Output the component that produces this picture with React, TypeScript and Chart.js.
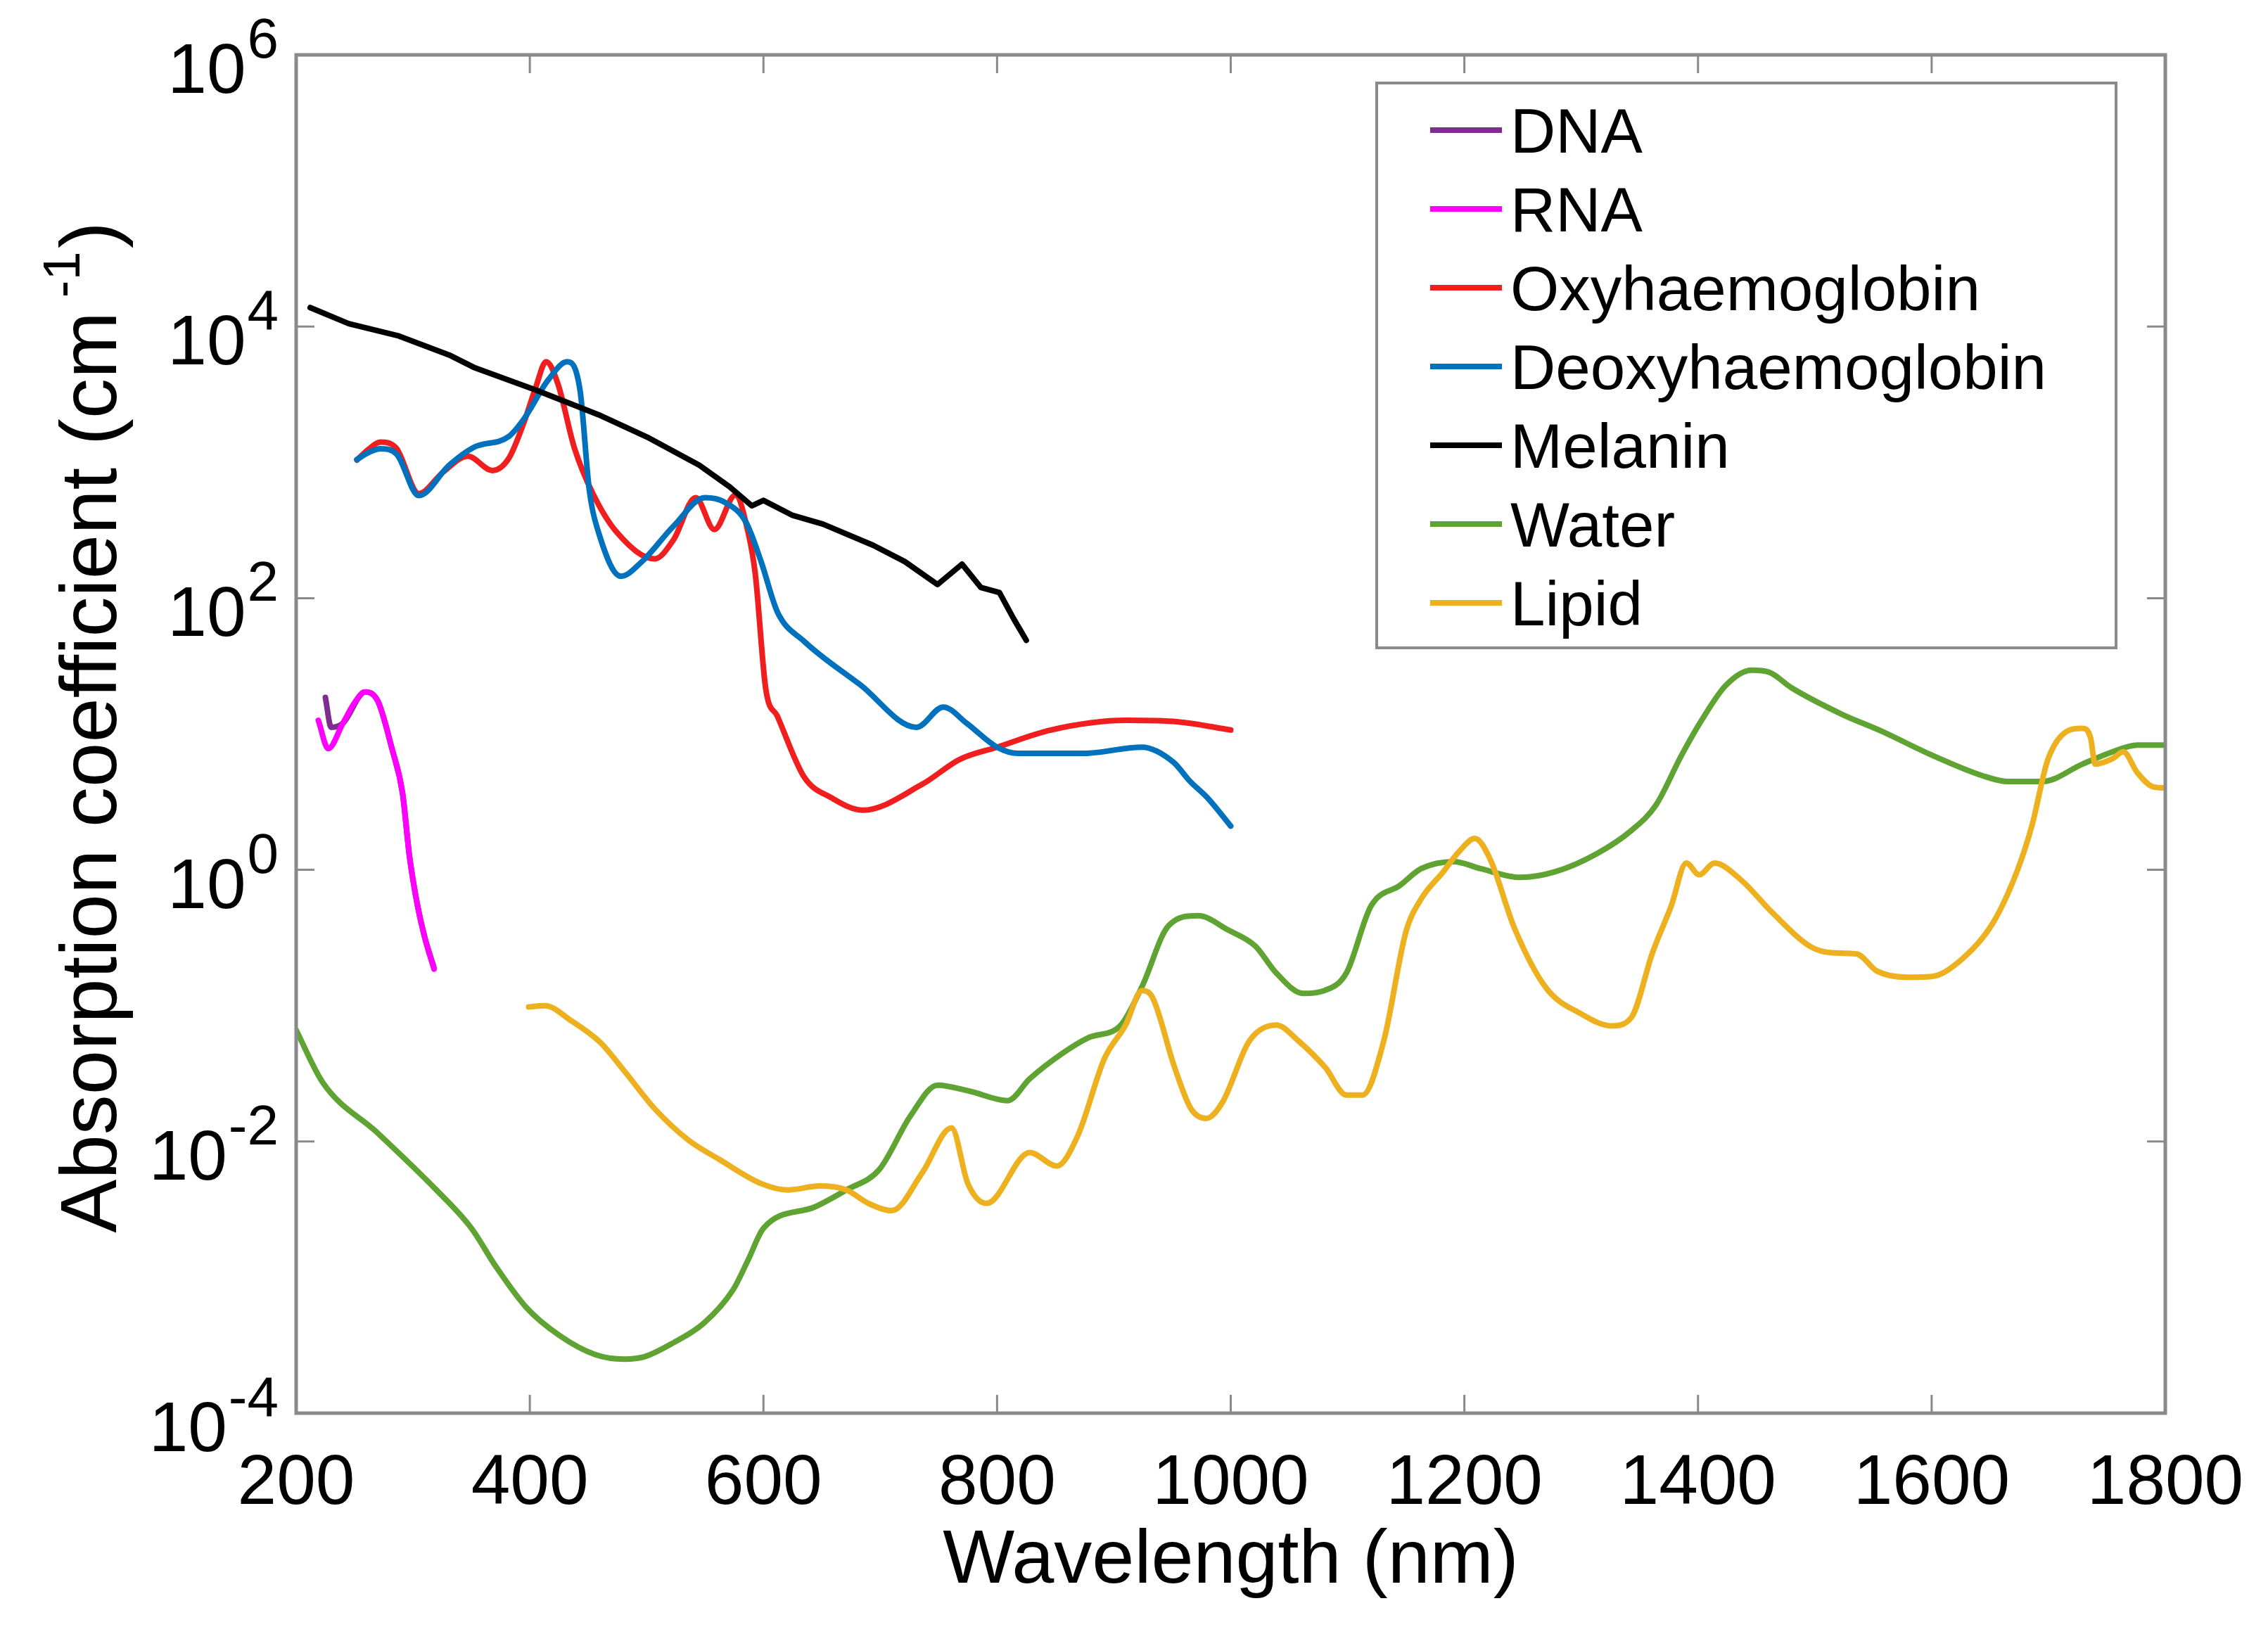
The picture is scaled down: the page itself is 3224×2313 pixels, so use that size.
import React, { useEffect, useRef } from "react";
import { Chart, registerables } from "chart.js";

Chart.register(...registerables);

const W = 3224;
const H = 2313;
const FONT = '"Liberation Sans", Arial, Helvetica, sans-serif';

// ---------- data (wavelength in nm, absorption coefficient in cm^-1) ----------
const dnaNm = [225, 230, 240, 259, 270, 282, 291, 297, 304, 310, 318];
const dnaVal = [18.6, 11.2, 12.0, 20.4, 17.4, 7.8, 3.7, 1.26, 0.54, 0.32, 0.19];

const rnaNm = [219, 227.5, 240, 250, 259, 270, 282, 291, 297, 304, 310, 318];
const rnaVal = [12.6, 7.8, 12.0, 17.0, 20.4, 17.4, 7.8, 3.7, 1.26, 0.54, 0.32, 0.186];

const oxyNm = [252, 262, 272, 286, 305, 326, 347, 368, 382, 395, 405, 414, 424, 438, 454, 475, 507, 523, 542, 558, 576, 587, 593, 602, 612, 635, 658, 685, 736, 768, 800, 846, 910, 955, 1000];
const oxyVal = [1040, 1250, 1410, 1260, 589, 851, 1110, 871, 1070, 1970, 3550, 5500, 3800, 1290, 589, 302, 195, 269, 550, 320, 575, 302, 151, 21.4, 13.5, 4.8, 3.4, 2.75, 4.27, 6.5, 8.0, 10.7, 12.6, 12.3, 10.7];

const deoxyNm = [252, 262, 272, 286, 305, 331, 352, 382, 395, 416, 432, 443, 451, 459, 478, 496, 523, 550, 566, 585, 598, 612, 635, 683, 731, 754, 774, 800, 818, 874, 924, 951, 965, 980, 1000];
const deoxyVal = [1050, 1180, 1260, 1150, 569, 955, 1290, 1550, 2090, 4070, 5500, 3390, 617, 302, 145, 186, 339, 550, 513, 363, 186, 79, 48, 23, 11.2, 15.8, 12.0, 8.0, 7.2, 7.2, 8.0, 6.2, 4.5, 3.4, 2.1];

const melaninNm = [212, 245, 288, 331, 352, 406, 459, 502, 545, 571, 590, 600, 625, 651, 694, 721, 749, 770, 786, 802, 814, 825];
const melaninVal = [13800, 10500, 8510, 6170, 5010, 3390, 2240, 1510, 955, 661, 479, 525, 407, 351, 245, 186, 126, 178, 120, 110, 71, 49];

const waterNm = [200, 223, 270, 320, 350, 371, 397, 426, 456, 481, 498, 523, 549, 574, 587, 600, 644, 671, 699, 726, 749, 777, 809, 828, 855, 878, 906, 924, 947, 972, 998, 1021, 1039, 1062, 1080, 1099, 1120, 1145, 1163, 1191, 1214, 1248, 1278, 1313, 1343, 1364, 1386, 1403, 1424, 1446, 1461, 1480, 1523, 1557, 1600, 1643, 1665, 1695, 1729, 1755, 1776, 1800];
const waterVal = [0.066, 0.027, 0.0115, 0.0044, 0.0023, 0.0012, 0.0006, 0.00037, 0.00027, 0.00025, 0.00026, 0.00033, 0.00046, 0.00081, 0.00135, 0.0023, 0.0033, 0.0044, 0.0062, 0.0155, 0.026, 0.0234, 0.02, 0.029, 0.044, 0.058, 0.072, 0.138, 0.39, 0.46, 0.36, 0.275, 0.174, 0.123, 0.129, 0.174, 0.54, 0.77, 1.02, 1.15, 1.02, 0.88, 0.97, 1.31, 1.95, 3.0, 7.0, 12.6, 22.9, 29.5, 28.5, 21.9, 14.0, 10.5, 7.0, 4.95, 4.47, 4.47, 6.0, 7.4, 8.3, 8.3];

const lipidNm = [399, 413, 435, 460, 481, 507, 536, 562, 598, 621, 648, 671, 690, 710, 736, 761, 775, 791, 828, 851, 869, 892, 910, 924, 933, 952, 966, 979, 993, 1016, 1039, 1058, 1081, 1099, 1113, 1131, 1150, 1163, 1182, 1195, 1209, 1222, 1243, 1270, 1300, 1326, 1343, 1361, 1377, 1390, 1401, 1414, 1437, 1463, 1497, 1515, 1536, 1553, 1579, 1600, 1626, 1652, 1673, 1686, 1699, 1712, 1729, 1736, 1740, 1755, 1764, 1776, 1789, 1800];
const lipidVal = [0.098, 0.1, 0.078, 0.054, 0.033, 0.0174, 0.0102, 0.0074, 0.0049, 0.0044, 0.0047, 0.0044, 0.0035, 0.0031, 0.0059, 0.0126, 0.0049, 0.0035, 0.0083, 0.0066, 0.011, 0.041, 0.072, 0.129, 0.115, 0.035, 0.0174, 0.0148, 0.0195, 0.055, 0.072, 0.055, 0.035, 0.022, 0.022, 0.055, 0.35, 0.61, 0.97, 1.35, 1.7, 1.2, 0.37, 0.135, 0.087, 0.071, 0.082, 0.245, 0.54, 1.12, 0.92, 1.12, 0.84, 0.49, 0.27, 0.245, 0.24, 0.18, 0.162, 0.164, 0.22, 0.4, 0.97, 2.14, 6.3, 9.9, 11.0, 9.4, 6.0, 6.6, 7.4, 5.2, 4.1, 4.0];

const seriesNames = ["DNA", "RNA", "Oxyhaemoglobin", "Deoxyhaemoglobin", "Melanin", "Water", "Lipid"];
const seriesColors = ["#7E2F8E", "#FF00FF", "#F01E1E", "#0072BD", "#000000", "#5FA332", "#EDB120"];

const xTicks = [200, 400, 600, 800, 1000, 1200, 1400, 1600, 1800];
const yTicks = [1e-4, 1e-2, 1, 1e2, 1e4, 1e6];
const yTickExp = ["-4", "-2", "0", "2", "4", "6"];

const xTitle = "Wavelength (nm)";
const yTitleMain = "Absorption coefficient (cm";
const yTitleSup = "-1";
const yTitleEnd = ")";

const AXIS = "#8a8a8a";

export default function App() {
  const ref = useRef<HTMLCanvasElement>(null);

  useEffect(() => {
    const canvas = ref.current;
    if (!canvas) return;
    const pairs = [
      [dnaNm, dnaVal],
      [rnaNm, rnaVal],
      [oxyNm, oxyVal],
      [deoxyNm, deoxyVal],
      [melaninNm, melaninVal],
      [waterNm, waterVal],
      [lipidNm, lipidVal],
    ];
    const datasets = pairs.map(([xs, ys], i) => ({
      label: seriesNames[i],
      data: (xs as number[]).map((x, k) => ({ x, y: (ys as number[])[k] })),
      borderColor: seriesColors[i],
      backgroundColor: seriesColors[i],
      borderWidth: 8,
      pointRadius: 0,
      fill: false,
      tension: 0,
      borderJoinStyle: "round",
      borderCapStyle: "round",
      cubicInterpolationMode: i === 4 ? "default" : "monotone",
      order: 10 - i,
    }));

    const decor = {
      id: "decor",
      afterDraw(chart: any) {
        const ctx = chart.ctx as CanvasRenderingContext2D;
        const xs = chart.scales.x;
        const ys = chart.scales.y;
        const { left, right, top, bottom } = chart.chartArea;
        ctx.save();
        // axes box
        ctx.strokeStyle = AXIS;
        ctx.lineWidth = 5;
        ctx.strokeRect(left, top, right - left, bottom - top);
        // inward ticks on all four sides
        const tl = 26;
        ctx.lineWidth = 3;
        ctx.beginPath();
        xTicks.forEach((v) => {
          const px = xs.getPixelForValue(v);
          ctx.moveTo(px, bottom);
          ctx.lineTo(px, bottom - tl);
          ctx.moveTo(px, top);
          ctx.lineTo(px, top + tl);
        });
        yTicks.forEach((v) => {
          const py = ys.getPixelForValue(v);
          ctx.moveTo(left, py);
          ctx.lineTo(left + tl, py);
          ctx.moveTo(right, py);
          ctx.lineTo(right - tl, py);
        });
        ctx.stroke();

        // x tick labels
        ctx.fillStyle = "#000";
        ctx.font = `100px ${FONT}`;
        ctx.textAlign = "center";
        ctx.textBaseline = "alphabetic";
        xTicks.forEach((v) => {
          ctx.fillText(String(v), xs.getPixelForValue(v), 2138);
        });

        // y tick labels 10^n
        ctx.textAlign = "left";
        yTicks.forEach((v, i) => {
          const py = ys.getPixelForValue(v);
          ctx.font = `80px ${FONT}`;
          const wSup = ctx.measureText(yTickExp[i]).width;
          ctx.font = `100px ${FONT}`;
          const wBase = ctx.measureText("10").width;
          const supX = 396 - wSup;
          const baseX = supX - wBase - 2;
          ctx.fillText("10", baseX, py + 54);
          ctx.font = `80px ${FONT}`;
          ctx.fillText(yTickExp[i], supX, py + 4);
        });

        // x title
        ctx.font = `108px ${FONT}`;
        ctx.textAlign = "center";
        ctx.fillText(xTitle, (left + right) / 2, 2250);

        // y title (rotated)
        ctx.save();
        ctx.translate(165, 1036);
        ctx.rotate(-Math.PI / 2);
        ctx.textAlign = "left";
        ctx.font = `114px ${FONT}`;
        const w1 = ctx.measureText(yTitleMain).width;
        const w3 = ctx.measureText(yTitleEnd).width;
        ctx.font = `74px ${FONT}`;
        const w2 = ctx.measureText(yTitleSup).width;
        const gap = 20;
        const total = w1 + gap + w2 + w3;
        let x0 = -total / 2;
        ctx.font = `114px ${FONT}`;
        ctx.fillText(yTitleMain, x0, 0);
        x0 += w1 + gap;
        ctx.font = `74px ${FONT}`;
        ctx.fillText(yTitleSup, x0, -52);
        x0 += w2 + 4;
        ctx.font = `114px ${FONT}`;
        ctx.fillText(yTitleEnd, x0, 0);
        ctx.restore();

        // legend
        const lx0 = 1957, ly0 = 118, lx1 = 3008, ly1 = 921;
        ctx.fillStyle = "#fff";
        ctx.fillRect(lx0, ly0, lx1 - lx0, ly1 - ly0);
        ctx.strokeStyle = AXIS;
        ctx.lineWidth = 4;
        ctx.strokeRect(lx0, ly0, lx1 - lx0, ly1 - ly0);
        ctx.font = `89px ${FONT}`;
        ctx.textAlign = "left";
        chart.data.datasets.forEach((ds: any, i: number) => {
          const ry = 185 + i * 112;
          ctx.strokeStyle = ds.borderColor;
          ctx.lineWidth = 8;
          ctx.beginPath();
          ctx.moveTo(2033, ry);
          ctx.lineTo(2135, ry);
          ctx.stroke();
          ctx.fillStyle = "#000";
          ctx.fillText(ds.label, 2147, ry + 32);
        });
        ctx.restore();
      },
    };

    const chart = new Chart(canvas, {
      type: "line",
      data: { datasets: datasets as any },
      options: {
        animation: false,
        responsive: false,
        devicePixelRatio: 1,
        layout: { padding: { left: 0, top: 78, right: W - 3078, bottom: 0 } },
        plugins: { legend: { display: false }, tooltip: { enabled: false } },
        scales: {
          x: {
            type: "linear",
            min: 200,
            max: 1800,
            grid: { display: false },
            border: { display: false },
            ticks: { display: false, stepSize: 200 },
            afterFit: (s: any) => {
              s.height = H - 2009;
            },
          },
          y: {
            type: "logarithmic",
            min: 1e-4,
            max: 1e6,
            grid: { display: false },
            border: { display: false },
            ticks: { display: false },
            afterFit: (s: any) => {
              s.width = 421;
            },
          },
        },
      } as any,
      plugins: [decor],
    });
    return () => chart.destroy();
  }, []);

  return (
    <div style={{ position: "fixed", left: 0, top: 0, width: W, height: H, background: "#fff" }}>
      <canvas ref={ref} width={W} height={H} style={{ width: W, height: H, display: "block" }} />
    </div>
  );
}
